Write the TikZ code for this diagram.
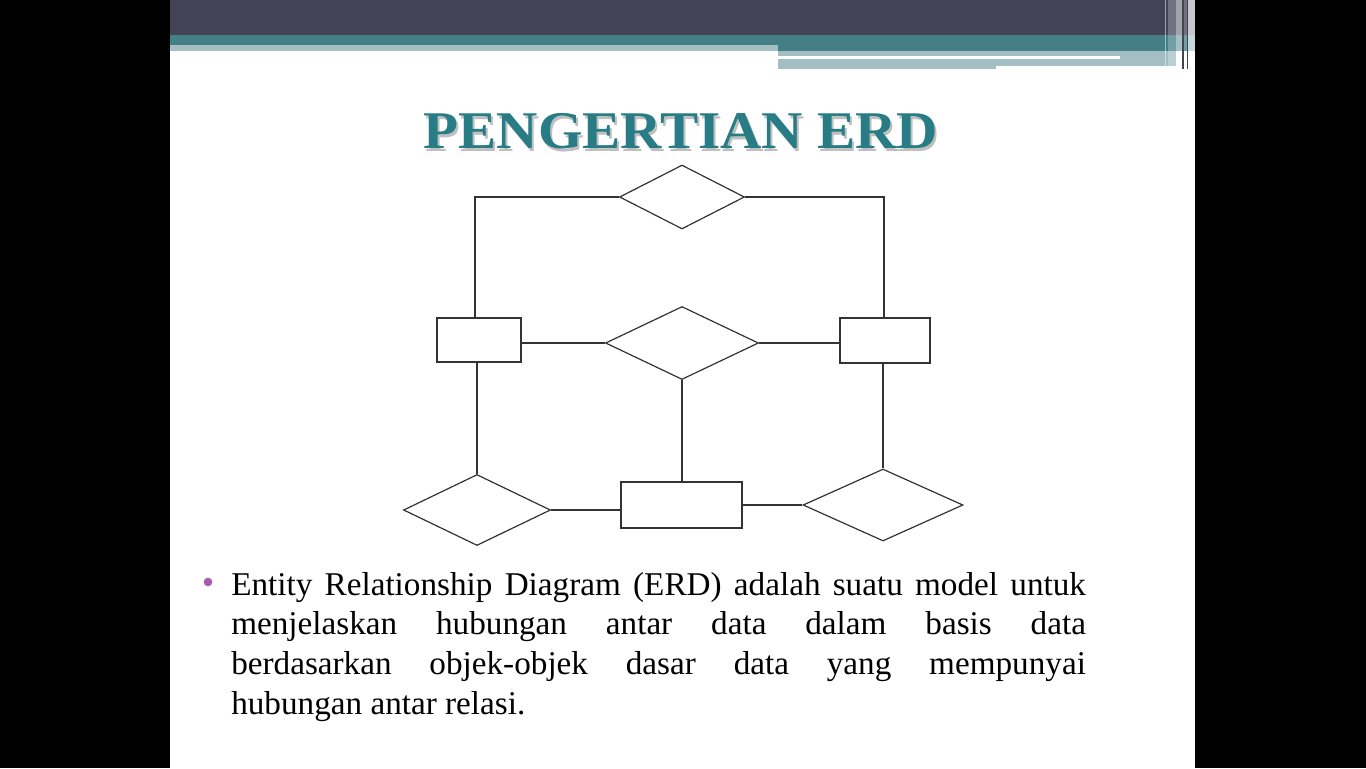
\documentclass[tikz,border=0pt]{standalone}
\usepackage{fontspec}
\setmainfont{Liberation Serif}
\usetikzlibrary{positioning, shapes.geometric, calc}
\definecolor{barDark}{HTML}{424455}
\definecolor{barTeal}{HTML}{457F86}
\definecolor{barLight}{HTML}{A3BFC3}
\definecolor{titleTeal}{HTML}{287C85}
\definecolor{bulletPurple}{HTML}{A55BB0}

\begin{document}
\begin{tikzpicture}[x=0.75pt, y=-0.75pt,
    ent/.style={draw=black!80, line width=0.9pt, inner sep=0pt},
    rel/.style={diamond, draw=black!80, line width=0.9pt, inner sep=0pt},
    link/.style={draw=black!80, line width=0.9pt},
    head/.style={font=\fontsize{39.75}{40}\selectfont\bfseries, xscale=1.08, anchor=base}]

\useasboundingbox (0,0) rectangle (1366,768);

% Slide on black
\fill[black] (0,0) rectangle (1366,768);
\fill[white] (170,0) rectangle (1195,768);

% Header stripes
\fill[barDark] (170,0) rectangle (1195,35);
\fill[barTeal] (170,35) rectangle (1195,51);
\fill[barLight] (170,45) rectangle (778,51);
\fill[barLight] (778,51) rectangle (1176,66);
\fill[white] (778,56) rectangle (1120,59);
\fill[barLight] (778,66) rectangle (996,69);

% Thin stripes at the right edge
\fill[white, opacity=0.25] (1168,0) rectangle (1195,69);
\fill[white, opacity=0.35] (1176,0) rectangle (1182,69);
\fill[white, opacity=0.6] (1188,0) rectangle (1195,69);
\draw[white, opacity=0.5, line width=0.6pt] (1165,0) -- (1165,69);
\draw[barDark, line width=0.8pt] (1183,0) -- (1183,69);
\draw[barDark, line width=0.6pt] (1187,0) -- (1187,69);

% Title with shadow
\node[head, text=black, opacity=0.25] (title-shadow) at (683,151) {PENGERTIAN ERD};
\node[head, text=titleTeal] (title) at (681,148) {PENGERTIAN ERD};

% Relationships
\node[rel, minimum width=93.75pt, minimum height=48pt] (rel1) at (682,197) {};
\node[rel, minimum width=114.75pt, minimum height=54.75pt] (rel2) at (682,343) {};
\node[rel, minimum width=110.25pt, minimum height=53.25pt] (rel3) at (477,510) {};
\node[rel, minimum width=120pt, minimum height=54pt] (rel4) at (883,505) {};

% Entities
\node[ent, minimum width=63pt, minimum height=33pt] (ent1) at (479,340) {};
\node[ent, minimum width=67.5pt, minimum height=33.75pt] (ent2) at (885,340.5) {};
\node[ent, minimum width=90.75pt, minimum height=34.5pt] (ent3) at (681.5,505) {};

% Top loop (corners as coordinates)
\coordinate (top-left) at (475,197);
\coordinate (top-right) at (884,197);
\draw[link] (rel1.west) -- (top-left) -- (top-left |- ent1.north);
\draw[link] (rel1.east) -- (top-right) -- (top-right |- ent2.north);

% Middle row
\draw[link] (rel2.west -| ent1.east) -- (rel2.west);
\draw[link] (rel2.east) -- (rel2.east -| ent2.west);
\draw[link] (rel2.south) -- (rel2.south |- ent3.north);

% Down to the bottom row
\draw[link] (ent1.south -| rel3.north) -- (rel3.north);
\draw[link] (ent2.south -| rel4.north) -- (rel4.north);
\draw[link] (rel3.east) -- (rel3.east -| ent3.west);
\draw[link] (ent3.east) -- (rel4.west);

% Definition
\node[circle, fill=bulletPurple, inner sep=0pt, minimum size=6.5pt] (bullet) at (208,582) {};
\node[anchor=base west, text width=641pt, align=justify, inner sep=0pt,
      font=\fontsize{24.9}{29.8}\selectfont] (def) at (231,595)
  {Entity Relationship Diagram (ERD) adalah suatu model untuk\linebreak
   menjelaskan hubungan antar data dalam basis data\linebreak
   berdasarkan objek-objek dasar data yang mempunyai\linebreak
   hubungan antar relasi.};

\end{tikzpicture}
\end{document}
